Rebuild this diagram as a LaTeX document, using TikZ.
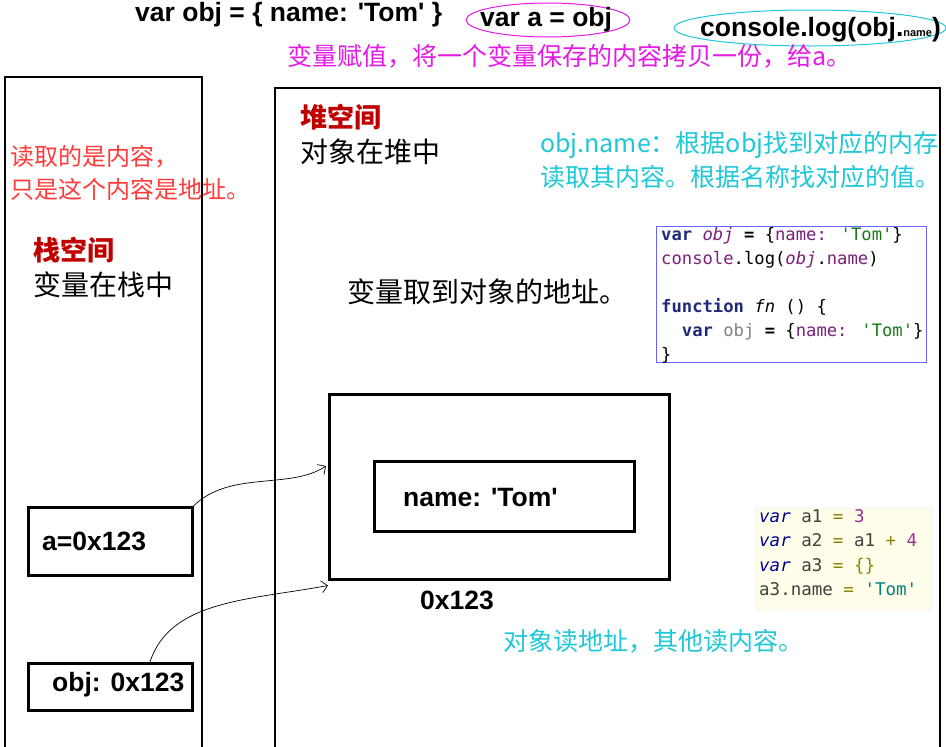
\documentclass[tikz,border=0pt]{standalone}
\usepackage{fontspec}
\setmainfont{Liberation Sans}
\newfontfamily\cjk{Noto Sans CJK SC}
\newfontfamily\codef{DejaVu Sans Mono}
\usetikzlibrary{arrows.meta}
\definecolor{mag}{HTML}{E619E6}
\definecolor{cy}{HTML}{1FC8D8}
\definecolor{dred}{HTML}{C00000}
\definecolor{lred}{HTML}{FF3B3B}
\definecolor{kw}{HTML}{1F2A7A}
\definecolor{pu}{HTML}{7A1F7A}
\definecolor{gr}{HTML}{1A7A1A}
\newcommand{\q}{\textquotesingle}
\begin{document}
\begin{tikzpicture}[x=1pt,y=-1pt,
  blk/.style={draw=black,line width=2.5pt},
  bt/.style={font=\bfseries\fontsize{26.5}{30}\selectfont,anchor=west,inner sep=0},
  ct/.style={font=\cjk\fontsize{26}{33}\selectfont,anchor=west,inner sep=0,align=left},
  cd/.style={font=\codef\fontsize{17.2}{24}\selectfont,anchor=north west,inner sep=0,align=left},
  arr/.style={line width=0.7pt,-{Straight Barb[length=6pt,width=12pt]}}]
\useasboundingbox[fill=white] (0,0) rectangle (946,747);
\draw[blk] (5,77) rectangle (202,760);
\draw[blk] (275,88) rectangle (940,760);
\node[blk,minimum width=340,minimum height=185,inner sep=0,anchor=north west] (objb) at (328,393) {};
\node[blk,minimum width=260,minimum height=70,inner sep=0,anchor=north west] (nameb) at (373,460) {};
\node[bt] at (403,498) {name: \q Tom\q};
\node[bt] at (420,600) {0x123};
\node[blk,minimum width=164,minimum height=68,inner sep=0,anchor=north west] (ab) at (27,506) {};
\node[bt] at (42,541) {a=0x123};
\node[blk,minimum width=164,minimum height=47,inner sep=0,anchor=north west] (ob) at (27,662) {};
\node[bt] at (52,685) {obj: 0x123};
\draw[arr] (ab.north east) .. controls (230,470) and (290,490) .. (326,466);
\draw[arr] (150,662) .. controls (170,600) and (250,600) .. ([yshift=-5pt]objb.south west);
% top
\node[bt] at (135,15) {var obj = \{ name: \q Tom\q\ \}};
\draw[mag,line width=1pt] (548,20) ellipse (82 and 17);
\node[bt] at (480,20) {var a = obj};
\begin{scope}
\clip (0,0) rectangle (946,747);
\draw[cy,line width=1pt] (810,28) ellipse (136 and 18);
\end{scope}
\node[bt] at (700,30) {console.log(obj.{\fontsize{11}{12}\selectfont name})};
\node[ct,text=mag,font=\cjk\fontsize{25}{30}\selectfont] at (287,56) {变量赋值，将一个变量保存的内容拷贝一份，给a。};
% left
\node[ct,text=lred,font=\cjk\fontsize{24}{33}\selectfont] at (10,173) {读取的是内容，\\只是这个内容是地址。};
\node[ct,text=dred,font=\cjk\bfseries\fontsize{27}{30}\selectfont] at (33,250) {栈空间};
\node[ct,font=\cjk\fontsize{28}{30}\selectfont] at (33,285) {变量在栈中};
\node[ct,text=dred,font=\cjk\bfseries\fontsize{27}{30}\selectfont] at (300,117) {堆空间};
\node[ct,font=\cjk\fontsize{28}{30}\selectfont] at (300,152) {对象在堆中};
\node[ct,text=cy,font=\cjk\fontsize{25}{34}\selectfont] at (540,160) {obj.name：根据obj找到对应的内存\\读取其内容。根据名称找对应的值。};
\node[ct,font=\cjk\fontsize{28}{30}\selectfont] at (347,292) {变量取到对象的地址。};
\node[ct,text=cy,font=\cjk\fontsize{25}{30}\selectfont] at (503,641) {对象读地址，其他读内容。};
% code 1
\draw[draw=blue!60,line width=1pt,fill=white] (656,226) rectangle (926,362);
\node[cd] at (661,227) {\textbf{\color{kw}var} \textit{\color{pu}obj} \textbf{=} \{{\color{pu}name:} {\color{gr}\q Tom\q}\}\\
{\color{pu}console}.log(\textit{\color{pu}obj}.{\color{pu}name})\\
\strut\\
\textbf{\color{kw}function} \textit{fn} () \{\\
\ \ \textbf{\color{kw}var} {\color{gray}obj} \textbf{=} \{{\color{pu}name:} {\color{gr}\q Tom\q}\}\\
\}};
% code 2
\draw[draw=black!15,fill=yellow!8,rounded corners=2pt] (756,508) rectangle (932,610);
\node[cd,font=\codef\fontsize{17.5}{24.5}\selectfont,text=black!75] at (759,509) {\textit{\color{blue!60!black}var} a1 {\color{olive}=} {\color{violet!80}3}\\
\textit{\color{blue!60!black}var} a2 {\color{olive}=} a1 {\color{olive}+} {\color{violet!80}4}\\
\textit{\color{blue!60!black}var} a3 {\color{olive}=} {\color{olive}\{\}}\\
a3.name {\color{olive}=} {\color{teal}\q Tom\q}};
\end{tikzpicture}
\end{document}
